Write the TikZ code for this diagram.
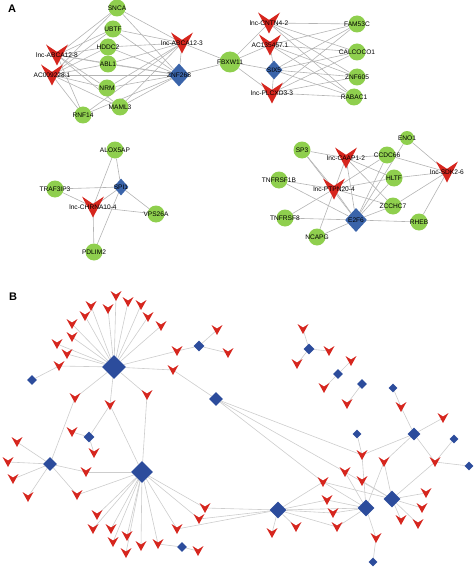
\documentclass[tikz,border=0pt]{standalone}
\usepackage{fontspec}
\setmainfont{Liberation Sans}
\usetikzlibrary{shapes.geometric,backgrounds}
\definecolor{gcol}{RGB}{143,207,78}
\definecolor{rcol}{RGB}{214,38,30}
\definecolor{bcolA}{RGB}{58,100,170}
\definecolor{bcolB}{RGB}{44,76,156}
\definecolor{ecolA}{RGB}{180,180,180}
\definecolor{ecolB}{RGB}{205,205,205}
\tikzset{
  gc/.style={circle, fill=gcol, inner sep=0, minimum size=#1},
  gc/.default=17,
  lbl/.style={font=\fontsize{6.6}{7}\selectfont, text=black, inner sep=0},
  dmA/.style 2 args={diamond, fill=bcolA, inner sep=0, minimum width=#1, minimum height=#2},
  dmB/.style={diamond, fill=bcolB, inner sep=0, minimum width=#1, minimum height=#1},
  vv/.pic={\fill[rcol] (-1,-1) -- (0,-0.3) -- (1,-1) -- (0,1) -- cycle;},
  ea/.style={draw=ecolA, line width=0.6},
  eb/.style={draw=ecolB, line width=0.6},
  pl/.style={font=\bfseries\fontsize{11}{12}\selectfont, inner sep=0}
}
\begin{document}
\begin{tikzpicture}[x=1pt,y=-1pt]
\useasboundingbox (0,0) rectangle (474,567);
\node[pl] (panA) at (12,9) {A};
\node[pl] (panB) at (13,297) {B};

% ---------------- Panel A nodes ----------------
\foreach \n/\x/\y in {SNCA/117/8, UBTF/113/29, HDDC2/108/47, ABL1/108/64, NRM/107/88, MAML3/120/107, RNF14/83/115,
  FAM53C/357/24, CALCOCO1/357/52, ZNF605/357/77, RABAC1/354/97,
  ALOX5AP/115/150, TRAF3IP3/55/189, VPS26A/156/214, PDLIM2/94/252,
  SP3/302/150, CCDC66/387/155, TNFRSF1B/279/180, HLTF/394/178, ZCCHC7/393/206, TNFRSF8/285/218, RHEB/419/222, NCAPG/317/237}
  \node[gc] (\n) at (\x,\y) {};
\node[gc=21] (FBXW11) at (230,62) {};
\node[gc=14] (ENO1) at (407,138) {};
\node[dmA={21}{23}] (ZNF268) at (179,75) {};
\node[dmA={17}{19}] (SIX5) at (274,70) {};
\node[dmA={15}{17}] (SPI1) at (121,187) {};
\node[dmA={22}{24}] (E2F6) at (356,220) {};
\foreach \n/\x/\y in {lABCA8/57/55, AC09/52/75, lABCA3/182/43, lCNTN4/269/23, AC135/270/45, lPLCXD3/272/93,
  lCHRNA/93/207, lCAAP1/346/158, lSDK2/447/172, lPTPN20/334/189}
  \coordinate (\n) at (\x,\y);

% ---------------- Panel B nodes ----------------
\node[dmB=24] (H1) at (114,367) {};
\node[dmB=22] (H2) at (142,472) {};
\node[dmB=10] (d1) at (32,380) {};
\node[dmB=11] (d2) at (199,346) {};
\node[dmB=14] (d3) at (216,399) {};
\node[dmB=11] (d4) at (89,437) {};
\node[dmB=14] (d5) at (50,464) {};
\node[dmB=10] (d6) at (182,547) {};
\node[dmB=17] (D3) at (278,510) {};
\node[dmB=17] (D4) at (366,508) {};
\node[dmB=17] (D5) at (392,499) {};
\node[dmB=13] (d7) at (414,434) {};
\node[dmB=9] (d8) at (454,439) {};
\node[dmB=9] (d9) at (469,466) {};
\node[dmB=9] (d10) at (373,562) {};
\node[dmB=9] (d11) at (357,434) {};
\node[dmB=11] (d12) at (309,349) {};
\node[dmB=10] (d13) at (338,374) {};
\node[dmB=10] (d14) at (362,384) {};
\node[dmB=9] (d15) at (393,388) {};
\foreach \n/\x/\y in {t1/116/296, t2/91/306, t3/128/302, t4/141/305, t5/108/309, t6/85/316, t7/148/317, t8/161/326,
  t9/72/324, t10/72/337, t11/57/344, t12/67/354, t13/59/366,
  v14/177/351, v15/173/370, v16/75/398, v17/110/405, v18/147/395, v19/217/330, v20/228/353,
  v21/72/432, v22/94/453, v23/17/442, v24/8/462, v25/13/479, v26/28/497, v27/86/472, v28/77/495,
  w1/97/515, w2/93/529, w3/111/529, w4/113/542, w5/127/536, w6/126/553, w7/141/546, w8/158/544, w9/177/529,
  w10/205/508, w11/199/519, w12/198/551,
  x1/272/533, x2/296/527, x3/323/482, x4/327/500, x5/333/513, x6/337/527, x7/345/472, x8/362/455, x9/384/462,
  x10/362/481, x11/376/538, x12/401/520, x13/418/524, x14/422/508, x15/426/493, x16/435/462,
  y1/401/407, y2/443/418, z1/303/329, z2/329/351, z3/297/364, z4/351/361, z5/324/388, z6/347/404}
  \coordinate (\n) at (\x,\y);

% ---------------- Edges ----------------
\begin{scope}[on background layer]
  \foreach \a in {lABCA8,AC09,lABCA3,ZNF268}
    \foreach \b in {SNCA,UBTF,HDDC2,ABL1,NRM,MAML3,RNF14}
      \draw[ea] (\a) -- (\b);
  \foreach \a/\b in {lABCA8/ZNF268, AC09/ZNF268, lABCA3/ZNF268, FBXW11/lABCA3, FBXW11/ZNF268,
     FBXW11/lCNTN4, FBXW11/AC135, FBXW11/SIX5, FBXW11/lPLCXD3, SIX5/AC135, SIX5/lPLCXD3}
    \draw[ea] (\a) -- (\b);
  \foreach \a in {lCNTN4,AC135,SIX5,lPLCXD3}
    \foreach \b in {FAM53C,CALCOCO1,ZNF605,RABAC1}
      \draw[ea] (\a) -- (\b);
  \foreach \b in {ALOX5AP,TRAF3IP3,VPS26A,PDLIM2}
    \draw[ea] (lCHRNA) -- (\b) (SPI1) -- (\b);
  \draw[ea] (lCHRNA) -- (SPI1);
  \foreach \a/\b in {ENO1/lSDK2, ENO1/E2F6, SP3/lCAAP1, SP3/lPTPN20, SP3/E2F6,
     lCAAP1/CCDC66, lCAAP1/HLTF, lCAAP1/ZCCHC7, lCAAP1/NCAPG, lCAAP1/E2F6,
     CCDC66/lSDK2, CCDC66/E2F6, CCDC66/lPTPN20, TNFRSF1B/lPTPN20, TNFRSF1B/E2F6,
     HLTF/lSDK2, HLTF/lPTPN20, HLTF/E2F6, ZCCHC7/lSDK2, ZCCHC7/lPTPN20, ZCCHC7/E2F6,
     lPTPN20/TNFRSF8, lPTPN20/E2F6, TNFRSF8/E2F6, RHEB/E2F6, RHEB/lSDK2, NCAPG/E2F6}
    \draw[ea] (\a) -- (\b);
  % panel B
  \foreach \b in {t1,t2,t3,t4,t5,t6,t7,t8,t9,t10,t11,t12,t13,v14,v15,v16,v17,v18}
    \draw[eb] (H1) -- (\b);
  \foreach \a/\b in {d1/t13, d2/v14, d2/v19, d2/v20, d3/v15, d3/x8, d3/x7, d3/x3,
     d4/v17, d4/v21, d4/v22, d5/v16, d5/v23, d5/v24, d5/v25, d5/v26, d5/v27, d5/v28,
     H2/v18, H2/v17, H2/v27, H2/v28, H2/w1, H2/w2, H2/w3, H2/w4, H2/w5, H2/w6, H2/w7, H2/w8, H2/w9, H2/w10, H2/w11,
     d6/w8, d6/w12, D3/w9, D3/w10, D3/w11, D3/x1, D3/x2, D3/x3, D3/x4, D3/x5, D3/x6, D3/D4,
     D4/x3, D4/x4, D4/x5, D4/x6, D4/x7, D4/x8, D4/x9, D4/x11,
     D5/x12, D5/x13, D5/x14, D5/x15, D5/x16, D5/x10, D5/x9, D5/x7, D5/x3,
     d7/y1, d7/y2, d7/x8, d7/x9, d7/x16, d8/x16, d9/x16, d10/x11, d11/x8,
     d12/z1, d12/z2, d12/z3, d13/z4, d13/z5, d14/z6, d15/y1}
    \draw[eb] (\a) -- (\b);
\end{scope}

% ---------------- V shapes ----------------
\foreach \n in {lABCA8,AC09,lABCA3,lCNTN4,AC135,lPLCXD3,lCHRNA,lCAAP1,lSDK2,lPTPN20}
  \pic[xscale=11,yscale=10.5] at (\n) {vv};
\foreach \n in {t1,t2,t3,t4,t5,t6,t7,t8,t9,t10,t11,t12,t13,v14,v15,v16,v17,v18,v19,v20,
  v21,v22,v23,v24,v25,v26,v27,v28,w1,w2,w3,w4,w5,w6,w7,w8,w9,w10,w11,w12,
  x1,x2,x3,x4,x5,x6,x7,x8,x9,x10,x11,x12,x13,x14,x15,x16,y1,y2,z1,z2,z3,z4,z5,z6}
  \pic[xscale=5.5,yscale=5] at (\n) {vv};

% ---------------- Labels (panel A) ----------------
\foreach \n/\t in {SNCA/SNCA, UBTF/UBTF, HDDC2/HDDC2, ABL1/ABL1, NRM/NRM, MAML3/MAML3, RNF14/RNF14,
  FBXW11/FBXW11, ZNF268/ZNF268, lABCA8/lnc-ABCA12-8, AC09/AC009228.1, lABCA3/lnc-ABCA12-3,
  lCNTN4/lnc-CNTN4-2, AC135/AC135457.1, SIX5/SIX5, lPLCXD3/lnc-PLCXD3-3,
  FAM53C/FAM53C, CALCOCO1/CALCOCO1, ZNF605/ZNF605, RABAC1/RABAC1,
  ALOX5AP/ALOX5AP, SPI1/SPI1, TRAF3IP3/TRAF3IP3, lCHRNA/lnc-CHRNA10-4, VPS26A/VPS26A, PDLIM2/PDLIM2,
  ENO1/ENO1, SP3/SP3, lCAAP1/lnc-CAAP1-2, CCDC66/CCDC66, lSDK2/lnc-SDK2-6, TNFRSF1B/TNFRSF1B,
  HLTF/HLTF, lPTPN20/lnc-PTPN20-4, ZCCHC7/ZCCHC7, TNFRSF8/TNFRSF8, E2F6/E2F6, RHEB/RHEB, NCAPG/NCAPG}
  \node[lbl] (\n-t) at (\n) {\t};
\end{tikzpicture}
\end{document}
